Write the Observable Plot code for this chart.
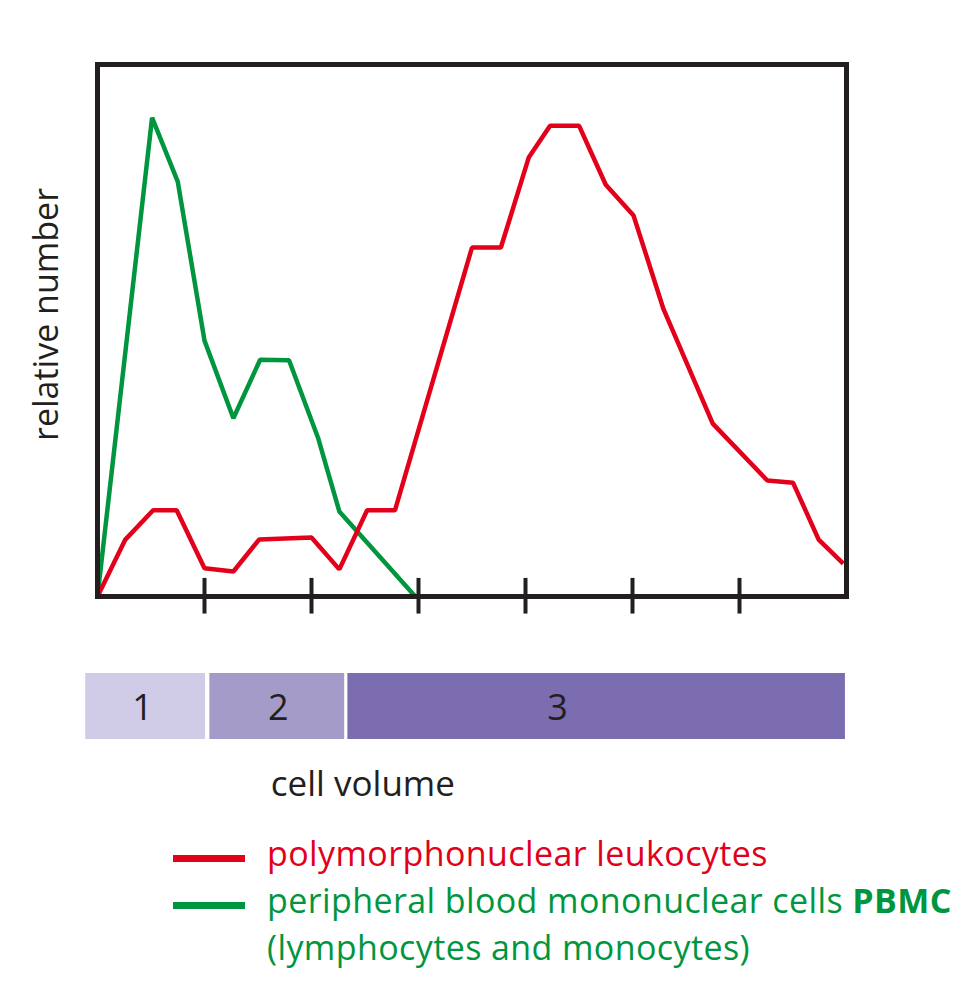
<!DOCTYPE html>
<html>
<head>
<meta charset="utf-8">
<script src="https://cdn.jsdelivr.net/npm/d3@7"></script>
<script src="https://cdn.jsdelivr.net/npm/@observablehq/plot@0.6"></script>
<style>
  html, body { margin: 0; padding: 0; background: #fff; }
  #root { position: relative; width: 980px; height: 1006px; font-family: "Open Sans", "Noto Sans", sans-serif; }
  #main, #band { position: absolute; left: 0; }
  #main { top: 0; }
  #band { top: 650px; }
  .legend { position: absolute; left: 0; top: 0; width: 980px; }
  .lg-line { position: absolute; height: 7px; width: 72px; left: 173px; }
  .lg-text { position: absolute; left: 267px; font-size: 34px; letter-spacing: 0.4px; line-height: 1; white-space: nowrap; }
</style>
</head>
<body>
<div id="root">
  <div id="main"></div>
  <div id="band"></div>
  <div class="legend" id="legend"></div>
</div>
<script>
// ---- data ----
const pmnX = [0, 0.26, 0.52, 0.74, 1.0, 1.27, 1.51, 2.0, 2.26, 2.52, 2.78, 3.50, 3.77, 4.03, 4.23, 4.50, 4.75, 5.01, 5.29, 5.75, 6.26, 6.50, 6.74, 6.97];
const pmnY = [0, 10.7, 16.2, 16.2, 5.3, 4.7, 10.7, 11.1, 5.1, 16.2, 16.2, 65.6, 65.6, 82.5, 88.5, 88.5, 77.4, 71.6, 54.0, 32.5, 21.8, 21.4, 10.7, 6.2];
const pbmcX = [0, 0.51, 0.75, 1.0, 1.27, 1.52, 1.79, 2.06, 2.26, 2.97];
const pbmcY = [0, 90.0, 78.0, 48.1, 33.5, 44.5, 44.4, 29.9, 16.0, 0];
const tickValues = [1, 2, 3, 4, 5, 6];
const bandLabels = ["1", "2", "3"];
const bandStart = [-0.11, 1.05, 2.34];
const bandEnd = [1.01, 2.31, 6.99];
const bandLabelX = [0.42, 1.69, 4.30];
const bandColors = ["#d0cce8", "#a59bc9", "#7b6db0"];
const seriesNames = ["polymorphonuclear leukocytes", "peripheral blood mononuclear cells"];
const seriesColors = ["#e2001a", "#00963f"];

const pmn = pmnX.map((x, i) => ({x, y: pmnY[i]}));
const pbmc = pbmcX.map((x, i) => ({x, y: pbmcY[i]}));
const band = bandLabels.map((label, i) => ({label, x1: bandStart[i], x2: bandEnd[i], lx: bandLabelX[i], color: bandColors[i]}));

const W = 980;
const font = '"Open Sans", "Noto Sans", sans-serif';

const main = Plot.plot({
  width: W,
  height: 640,
  marginLeft: 97,
  marginRight: W - 846,
  marginTop: 64,
  marginBottom: 44,
  style: {fontFamily: font, background: "white", overflow: "visible"},
  x: {domain: [0, 7], axis: null},
  y: {domain: [0, 100], axis: null},
  marks: [
    Plot.line(pbmc, {x: "x", y: "y", stroke: seriesColors[1], strokeWidth: 4.5, strokeLinejoin: "miter", strokeLinecap: "butt"}),
    Plot.line(pmn, {x: "x", y: "y", stroke: seriesColors[0], strokeWidth: 4.5, strokeLinejoin: "miter", strokeLinecap: "butt"}),
    Plot.frame({stroke: "#231f20", strokeWidth: 5}),
    Plot.ruleX(tickValues, {x: d => d, y1: -3.3, y2: 3.4, stroke: "#231f20", strokeWidth: 4, clip: false}),
    Plot.text(["relative number"], {frameAnchor: "left", dx: -50, dy: -16, rotate: -90, fontSize: 34, fill: "#231f20", textAnchor: "middle", lineAnchor: "middle"})
  ]
});
document.getElementById("main").appendChild(main);

const bandPlot = Plot.plot({
  width: W,
  height: 160,
  marginLeft: 97,
  marginRight: W - 846,
  marginTop: 23,
  marginBottom: 160 - 23 - 66,
  style: {fontFamily: font, background: "transparent", overflow: "visible"},
  x: {domain: [0, 7], axis: null},
  y: {domain: [0, 1], axis: null},
  marks: [
    Plot.rect(band, {x1: "x1", x2: "x2", y1: 0, y2: 1, fill: "color"}),
    Plot.text(band, {x: "lx", y: 0.47, text: "label", fontSize: 36, fill: "#231f20", lineAnchor: "middle"}),
    Plot.text(["cell volume"], {x: 2.48, y: -0.68, text: d => d, fontSize: 35, fill: "#231f20", lineAnchor: "middle", clip: false})
  ]
});
document.getElementById("band").appendChild(bandPlot);

// legend
const lg = document.getElementById("legend");
const rows = [
  {color: seriesColors[0], lineTop: 855, textTop: 836, html: seriesNames[0]},
  {color: seriesColors[1], lineTop: 902, textTop: 883, html: seriesNames[1] + ' <b>PBMC</b>'},
  {color: null, textTop: 930, html: "(lymphocytes and monocytes)", textColor: seriesColors[1]}
];
rows.forEach(r => {
  if (r.color) {
    const l = document.createElement("div");
    l.className = "lg-line";
    l.style.top = r.lineTop + "px";
    l.style.background = r.color;
    lg.appendChild(l);
  }
  const t = document.createElement("div");
  t.className = "lg-text";
  t.style.top = r.textTop + "px";
  t.style.color = r.textColor || r.color;
  t.innerHTML = r.html;
  lg.appendChild(t);
});
</script>
</body>
</html>
